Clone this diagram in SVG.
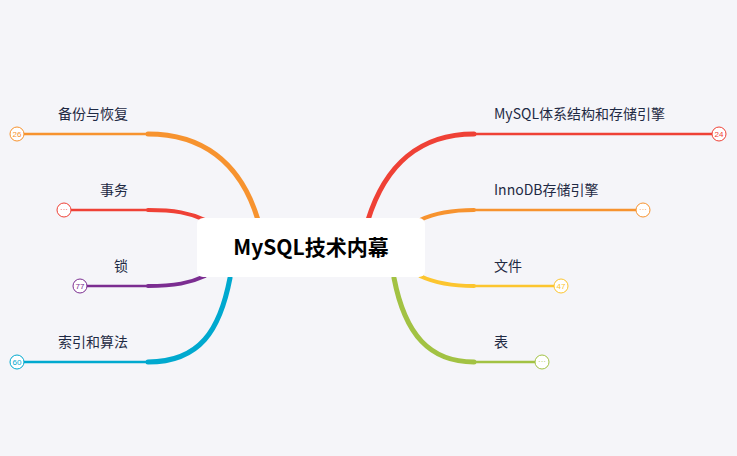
<svg xmlns="http://www.w3.org/2000/svg" width="737" height="456" viewBox="0 0 737 456">
<style>
.t{font-family:"Noto Sans CJK SC","Noto Sans",sans-serif;font-size:14px;fill:#1f2a44}
.c{fill:#fff;stroke-width:1}
.n{font-family:"Liberation Sans",sans-serif;font-size:8px;text-anchor:middle}
.f{fill:none;stroke-linecap:round}
</style>
<rect width="737" height="456" fill="#f5f5f9"/>
<g id="connectors">
<path class="f" d="M148 134 C200 134 240 160 258 220" stroke="#f7932f" stroke-width="5"/>
<path class="f" d="M24 134 H148" stroke="#f7932f" stroke-width="2.5"/>
<path class="f" d="M148 210 C175 210 190 213 205 220" stroke="#ef4136" stroke-width="4"/>
<path class="f" d="M71 210 H148" stroke="#ef4136" stroke-width="2.5"/>
<path class="f" d="M148 286 C175 286 190 283 205 276" stroke="#7b2d91" stroke-width="4"/>
<path class="f" d="M87 286 H148" stroke="#7b2d91" stroke-width="2.5"/>
<path class="f" d="M148 362 C200 362 220 330 230 278" stroke="#00a9cf" stroke-width="5"/>
<path class="f" d="M24 362 H148" stroke="#00a9cf" stroke-width="2.5"/>
<path class="f" d="M474 134 C420 134 385 165 368 220" stroke="#ef4136" stroke-width="5"/>
<path class="f" d="M474 134 H712" stroke="#ef4136" stroke-width="2.5"/>
<path class="f" d="M474 210 C450 210 435 213 420 220" stroke="#f7932f" stroke-width="4"/>
<path class="f" d="M474 210 H636" stroke="#f7932f" stroke-width="2.5"/>
<path class="f" d="M474 286 C450 286 435 283 420 276" stroke="#fcc52f" stroke-width="4"/>
<path class="f" d="M474 286 H554" stroke="#fcc52f" stroke-width="2.5"/>
<path class="f" d="M474 362 C430 362 405 335 394 278" stroke="#a2c243" stroke-width="5"/>
<path class="f" d="M474 362 H535" stroke="#a2c243" stroke-width="2.5"/>
</g>
<g id="root">
<rect x="197" y="218" width="228" height="59" rx="6" fill="#fff"/>
<text x="311" y="255" text-anchor="middle" style="font-family:'Noto Sans CJK SC','Noto Sans',sans-serif;font-size:21px;font-weight:bold;fill:#000">MySQL技术内幕</text>
</g>
<g id="n1"><text class="t" x="128" y="119" text-anchor="end">备份与恢复</text><circle class="c" cx="17" cy="134" r="7" stroke="#f7932f"/><text class="n" x="17" y="137" fill="#f7932f">26</text></g>
<g id="n2"><text class="t" x="128" y="195" text-anchor="end">事务</text><circle class="c" cx="64" cy="210" r="7" stroke="#ef4136"/><text class="n" x="64" y="212" fill="#ef4136">···</text></g>
<g id="n3"><text class="t" x="128" y="271" text-anchor="end">锁</text><circle class="c" cx="80" cy="286" r="7" stroke="#7b2d91"/><text class="n" x="80" y="289" fill="#7b2d91">77</text></g>
<g id="n4"><text class="t" x="128" y="347" text-anchor="end">索引和算法</text><circle class="c" cx="17" cy="362" r="7" stroke="#00a9cf"/><text class="n" x="17" y="365" fill="#00a9cf">60</text></g>
<g id="n5"><text class="t" x="494" y="119">MySQL体系结构和存储引擎</text><circle class="c" cx="719" cy="134" r="7" stroke="#ef4136"/><text class="n" x="719" y="137" fill="#ef4136">24</text></g>
<g id="n6"><text class="t" x="494" y="195">InnoDB存储引擎</text><circle class="c" cx="643" cy="210" r="7" stroke="#f7932f"/><text class="n" x="643" y="212" fill="#f7932f">···</text></g>
<g id="n7"><text class="t" x="494" y="271">文件</text><circle class="c" cx="561" cy="286" r="7" stroke="#fcc52f"/><text class="n" x="561" y="289" fill="#fcc52f">47</text></g>
<g id="n8"><text class="t" x="494" y="347">表</text><circle class="c" cx="542" cy="362" r="7" stroke="#a2c243"/><text class="n" x="542" y="364" fill="#a2c243">···</text></g>
</svg>
